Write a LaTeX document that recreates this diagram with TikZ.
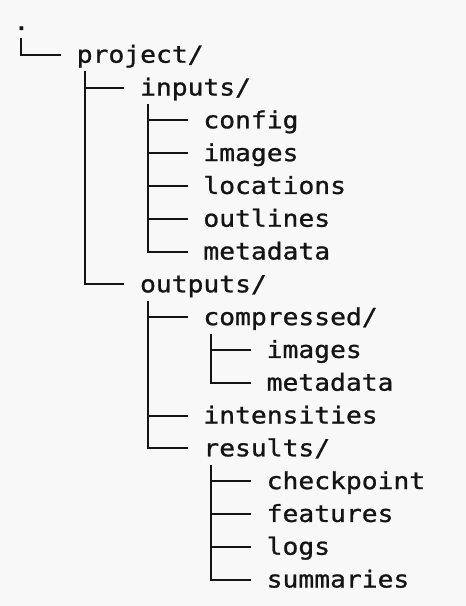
\documentclass[tikz,border=0pt]{standalone}
\usepackage{fontspec}
\setmonofont[FakeStretch=1.12, FakeBold=1]{DejaVu Sans Mono}
\usetikzlibrary{positioning}
\definecolor{paper}{RGB}{248,248,248}
\definecolor{ink}{RGB}{20,20,20}
\tikzstyle{entry} = [inner sep=0pt, outer sep=0pt, text height=24.3pt, text depth=8.5pt,
    font=\ttfamily\fontsize{23.5}{32.8}\selectfont, text=ink, anchor=north west]
\tikzstyle{branch} = [draw=ink, line width=2pt]

\begin{document}
\begin{tikzpicture}[x=1pt, y=1pt]
   \fill [paper] (0,0) rectangle (466,-606);
   \useasboundingbox (0,0) rectangle (466,-606);
   % Place nodes
    \node [entry, anchor=base west] (root) at (13.5,-29.9) {.};
    \node [entry, below right=0pt and 63.3pt of root.south west] (project) {project/};
    \node [entry, below right=0pt and 63.3pt of project.south west] (inputs) {inputs/};
    \node [entry, below right=0pt and 63.3pt of inputs.south west] (config) {config};
    \node [entry, below right=0pt and 0pt of config.south west] (inimages) {images};
    \node [entry, below right=0pt and 0pt of inimages.south west] (locations) {locations};
    \node [entry, below right=0pt and 0pt of locations.south west] (outlines) {outlines};
    \node [entry, below right=0pt and 0pt of outlines.south west] (inmeta) {metadata};
    \node [entry, below right=0pt and -63.3pt of inmeta.south west] (outputs) {outputs/};
    \node [entry, below right=0pt and 63.3pt of outputs.south west] (compressed) {compressed/};
    \node [entry, below right=0pt and 63.3pt of compressed.south west] (cimages) {images};
    \node [entry, below right=0pt and 0pt of cimages.south west] (cmeta) {metadata};
    \node [entry, below right=0pt and -63.3pt of cmeta.south west] (intensities) {intensities};
    \node [entry, below right=0pt and 0pt of intensities.south west] (results) {results/};
    \node [entry, below right=0pt and 63.3pt of results.south west] (checkpoint) {checkpoint};
    \node [entry, below right=0pt and 0pt of checkpoint.south west] (features) {features};
    \node [entry, below right=0pt and 0pt of features.south west] (logs) {logs};
    \node [entry, below right=0pt and 0pt of logs.south west] (summaries) {summaries};
   % Draw edges
    \path [branch] ([xshift=7.9pt]root.south west) |- ([xshift=-15.8pt]project.west);
    \path [branch] ([xshift=7.9pt]project.south west) |- ([xshift=-15.8pt]inputs.west);
    \path [branch] ([xshift=7.9pt]project.south west) |- ([xshift=-15.8pt]outputs.west);
    \path [branch] ([xshift=7.9pt]inputs.south west) |- ([xshift=-15.8pt]config.west);
    \path [branch] ([xshift=7.9pt]inputs.south west) |- ([xshift=-15.8pt]inimages.west);
    \path [branch] ([xshift=7.9pt]inputs.south west) |- ([xshift=-15.8pt]locations.west);
    \path [branch] ([xshift=7.9pt]inputs.south west) |- ([xshift=-15.8pt]outlines.west);
    \path [branch] ([xshift=7.9pt]inputs.south west) |- ([xshift=-15.8pt]inmeta.west);
    \path [branch] ([xshift=7.9pt]outputs.south west) |- ([xshift=-15.8pt]compressed.west);
    \path [branch] ([xshift=7.9pt]outputs.south west) |- ([xshift=-15.8pt]intensities.west);
    \path [branch] ([xshift=7.9pt]outputs.south west) |- ([xshift=-15.8pt]results.west);
    \path [branch] ([xshift=7.9pt]compressed.south west) |- ([xshift=-15.8pt]cimages.west);
    \path [branch] ([xshift=7.9pt]compressed.south west) |- ([xshift=-15.8pt]cmeta.west);
    \path [branch] ([xshift=7.9pt]results.south west) |- ([xshift=-15.8pt]checkpoint.west);
    \path [branch] ([xshift=7.9pt]results.south west) |- ([xshift=-15.8pt]features.west);
    \path [branch] ([xshift=7.9pt]results.south west) |- ([xshift=-15.8pt]logs.west);
    \path [branch] ([xshift=7.9pt]results.south west) |- ([xshift=-15.8pt]summaries.west);
\end{tikzpicture}
\end{document}
